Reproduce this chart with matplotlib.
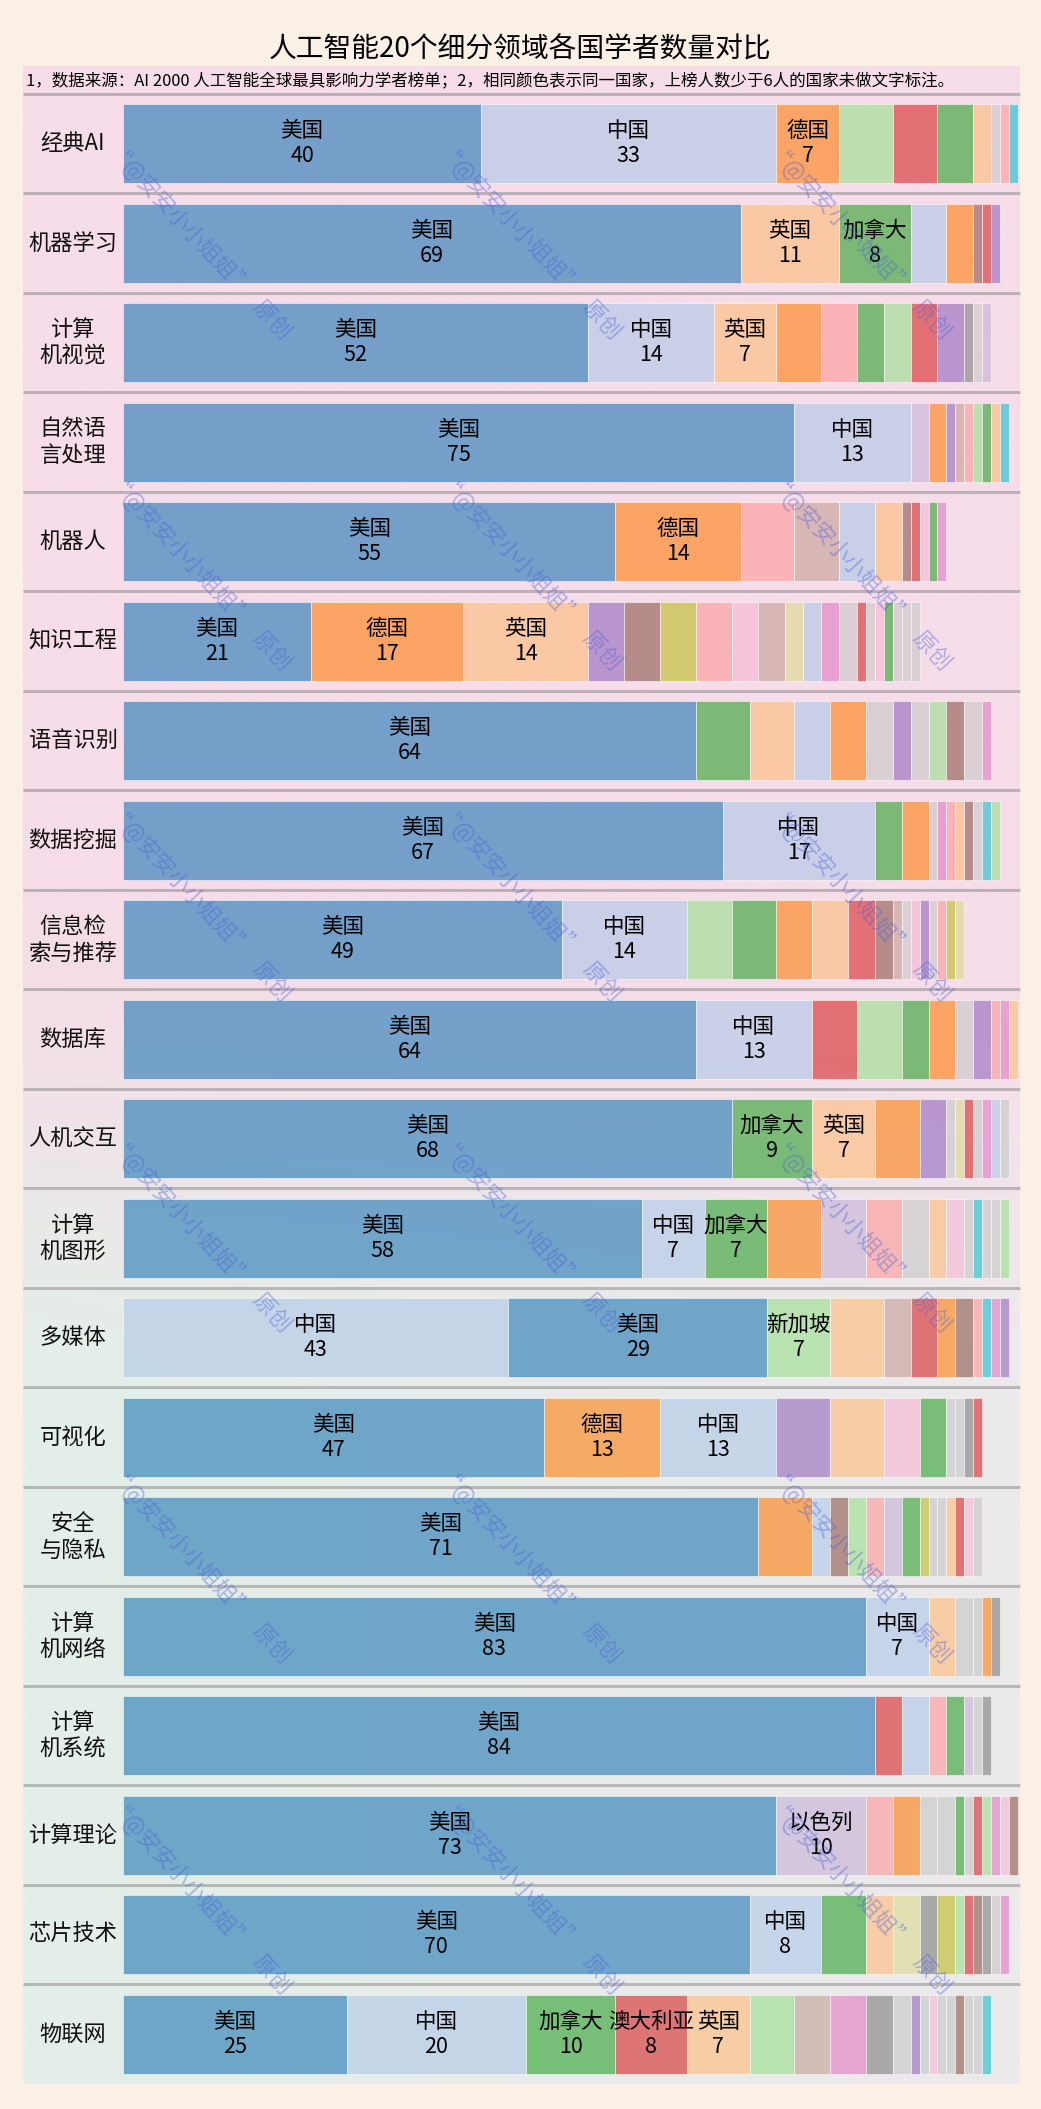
#!/usr/bin/env python3
from __future__ import annotations

import matplotlib

matplotlib.use("Agg")
import matplotlib.pyplot as plt
import numpy as np

plt.rcParams["font.family"] = ["Noto Sans CJK SC", "DejaVu Sans"]

TITLE = "人工智能20个细分领域各国学者数量对比"
NOTE = "1，数据来源：AI 2000 人工智能全球最具影响力学者榜单；2，相同颜色表示同一国家，上榜人数少于6人的国家未做文字标注。"
WATERMARK = "“@安安小小姐姐”   原创"

FIELDS = [
    "经典AI", "机器学习", "计算\n机视觉", "自然语\n言处理", "机器人",
    "知识工程", "语音识别", "数据挖掘", "信息检\n索与推荐", "数据库",
    "人机交互", "计算\n机图形", "多媒体", "可视化", "安全\n与隐私",
    "计算\n机网络", "计算\n机系统", "计算理论", "芯片技术", "物联网",
]

# country id -> tab20 colour index; only countries with 7+ scholars get a name
NAMES = {0: "美国", 1: "中国", 2: "德国", 3: "英国", 4: "加拿大",
         5: "新加坡", 6: "澳大利亚", 9: "以色列"}

# per field: country ids (colour) and counts, largest first
COUNTRIES = [
    [0, 1, 2, 5, 6, 4, 3, 15, 7, 18],
    [0, 3, 4, 1, 2, 10, 6, 8],
    [0, 1, 3, 2, 7, 4, 5, 6, 8, 14, 15, 9],
    [0, 1, 9, 2, 8, 11, 7, 5, 4, 3, 18],
    [0, 2, 7, 11, 1, 3, 10, 6, 13, 4, 12],
    [0, 2, 3, 8, 10, 16, 7, 13, 11, 17, 1, 12, 15, 6, 15, 13, 4, 15, 15, 15],
    [0, 4, 3, 1, 2, 15, 8, 15, 5, 10, 15, 12],
    [0, 1, 4, 2, 15, 12, 7, 3, 10, 15, 18, 5],
    [0, 1, 5, 4, 2, 3, 6, 10, 11, 15, 13, 8, 15, 7, 16, 17],
    [0, 1, 6, 5, 4, 2, 15, 8, 7, 12, 3],
    [0, 4, 3, 2, 8, 15, 17, 6, 15, 12, 1, 15],
    [0, 1, 4, 2, 9, 7, 15, 3, 13, 15, 18, 15, 15, 5],
    [1, 0, 5, 3, 11, 6, 2, 10, 7, 18, 12, 8],
    [0, 2, 1, 8, 3, 13, 4, 15, 15, 14, 6],
    [0, 2, 1, 10, 5, 7, 9, 4, 16, 15, 15, 3, 6, 13, 15],
    [0, 1, 3, 15, 15, 2, 14],
    [0, 6, 1, 7, 4, 9, 15, 14],
    [0, 9, 7, 2, 15, 15, 4, 15, 6, 5, 12, 13, 10],
    [0, 1, 4, 3, 17, 14, 16, 5, 6, 10, 14, 15, 12],
    [0, 1, 4, 6, 3, 5, 11, 12, 14, 15, 8, 15, 13, 15, 15, 10, 15, 15, 18],
]
COUNTS = [
    [40, 33, 7, 6, 5, 4, 2, 1, 1, 1],
    [69, 11, 8, 4, 3, 1, 1, 1],
    [52, 14, 7, 5, 4, 3, 3, 3, 3, 1, 1, 1],
    [75, 13, 2, 2, 1, 1, 1, 1, 1, 1, 1],
    [55, 14, 6, 5, 4, 3, 1, 1, 1, 1, 1],
    [21, 17, 14, 4, 4, 4, 4, 3, 3, 2, 2, 2, 2, 1, 1, 1, 1, 1, 1, 1],
    [64, 6, 5, 4, 4, 3, 2, 2, 2, 2, 2, 1],
    [67, 17, 3, 3, 1, 1, 1, 1, 1, 1, 1, 1],
    [49, 14, 5, 5, 4, 4, 3, 2, 1, 1, 1, 1, 1, 1, 1, 1],
    [64, 13, 5, 5, 3, 3, 2, 2, 1, 1, 1],
    [68, 9, 7, 5, 3, 1, 1, 1, 1, 1, 1, 1],
    [58, 7, 7, 6, 5, 4, 3, 2, 2, 1, 1, 1, 1, 1],
    [43, 29, 7, 6, 3, 3, 2, 2, 1, 1, 1, 1],
    [47, 13, 13, 6, 6, 4, 3, 1, 1, 1, 1],
    [71, 6, 2, 2, 2, 2, 2, 2, 1, 1, 1, 1, 1, 1, 1],
    [83, 7, 3, 2, 1, 1, 1],
    [84, 3, 3, 2, 2, 1, 1, 1],
    [73, 10, 3, 3, 2, 2, 1, 1, 1, 1, 1, 1, 1],
    [70, 8, 5, 3, 3, 2, 2, 1, 1, 1, 1, 1, 1],
    [25, 20, 10, 8, 7, 5, 4, 4, 3, 2, 1, 1, 1, 1, 1, 1, 1, 1, 1],
]

W, H = 1041, 2109
PANEL_L, PANEL_R = 23, 1020
BAND_TOP, ROWS_TOP, ROWS_BOTTOM = 66, 94, 2084
ZERO_PX, PX_PER_UNIT = 123, 8.95


def panel_background(ny: int = 400, nx: int = 120) -> np.ndarray:
    ty = np.linspace(0, 1, ny)[:, None]
    tx = np.linspace(0, 1, nx)[None, :]
    pink = np.array([246, 221, 233]) / 255
    left = np.array([227, 239, 232]) / 255
    right = np.array([237, 233, 236]) / 255
    bottom = left + (right - left) * tx[..., None]
    w = np.clip((ty - 0.42) / 0.25, 0, 1)
    w = w * w * (3 - 2 * w)
    return pink * (1 - w[..., None]) + bottom * w[..., None]


def fig_box(x0: float, x1: float, y_top: float, y_bottom: float) -> list[float]:
    return [x0 / W, 1 - y_bottom / H, (x1 - x0) / W, (y_bottom - y_top) / H]


def main() -> None:
    fig = plt.figure(figsize=(W / 100, H / 100), dpi=100)
    fig.patch.set_facecolor("#faf0e6")

    bg = fig.add_axes(fig_box(PANEL_L, PANEL_R, BAND_TOP, ROWS_BOTTOM))
    bg.imshow(panel_background(), aspect="auto", interpolation="bilinear")
    bg.set_axis_off()

    ax = fig.add_axes(fig_box(PANEL_L, PANEL_R, ROWS_TOP, ROWS_BOTTOM))
    ax.set_facecolor("none")
    x_lo = (PANEL_L - ZERO_PX) / PX_PER_UNIT
    x_hi = (PANEL_R - ZERO_PX) / PX_PER_UNIT
    ax.set_xlim(x_lo, x_hi)
    ax.set_ylim(len(FIELDS) - 0.5, -0.5)
    ax.set_axis_off()

    palette = plt.get_cmap("tab20").colors
    for row, (field, ids, counts) in enumerate(zip(FIELDS, COUNTRIES, COUNTS)):
        lefts = np.concatenate([[0], np.cumsum(counts)[:-1]])
        ax.barh([row] * len(counts), counts, left=lefts, height=0.79,
                color=[palette[i] for i in ids], alpha=0.6,
                edgecolor="white", linewidth=0.6)
        for cid, n, x in zip(ids, counts, lefts):
            if n > 6:
                ax.text(x + n / 2, row, f"{NAMES[cid]}\n{n}", ha="center", va="center",
                        fontsize=15.5, linespacing=1.2, color="black")
        ax.text(x_lo / 2, row, field, ha="center", va="center",
                fontsize=16, linespacing=1.2, color="#111111")
        ax.plot([x_lo, x_hi], [row - 0.5, row - 0.5], color="#7a7a7a", alpha=0.45,
                linewidth=2.2, clip_on=False, solid_capstyle="butt")

    fig.text(0.5, 1 - 50 / H, TITLE, ha="center", va="center", fontsize=20)
    fig.text(26 / W, 1 - 81 / H, NOTE, ha="left", va="center", fontsize=11.9)

    for wy in (152, 483, 814, 1145, 1476, 1807):
        for wx in (112, 442, 772):
            fig.text(wx / W, 1 - (wy - 6) / H, WATERMARK, ha="left", va="center",
                     rotation=-47, rotation_mode="anchor", fontsize=16,
                     color="#4a5fd8", alpha=0.4, zorder=10)

    fig.savefig("out.png", dpi=100, facecolor=fig.get_facecolor())
    plt.close(fig)


if __name__ == "__main__":
    main()
